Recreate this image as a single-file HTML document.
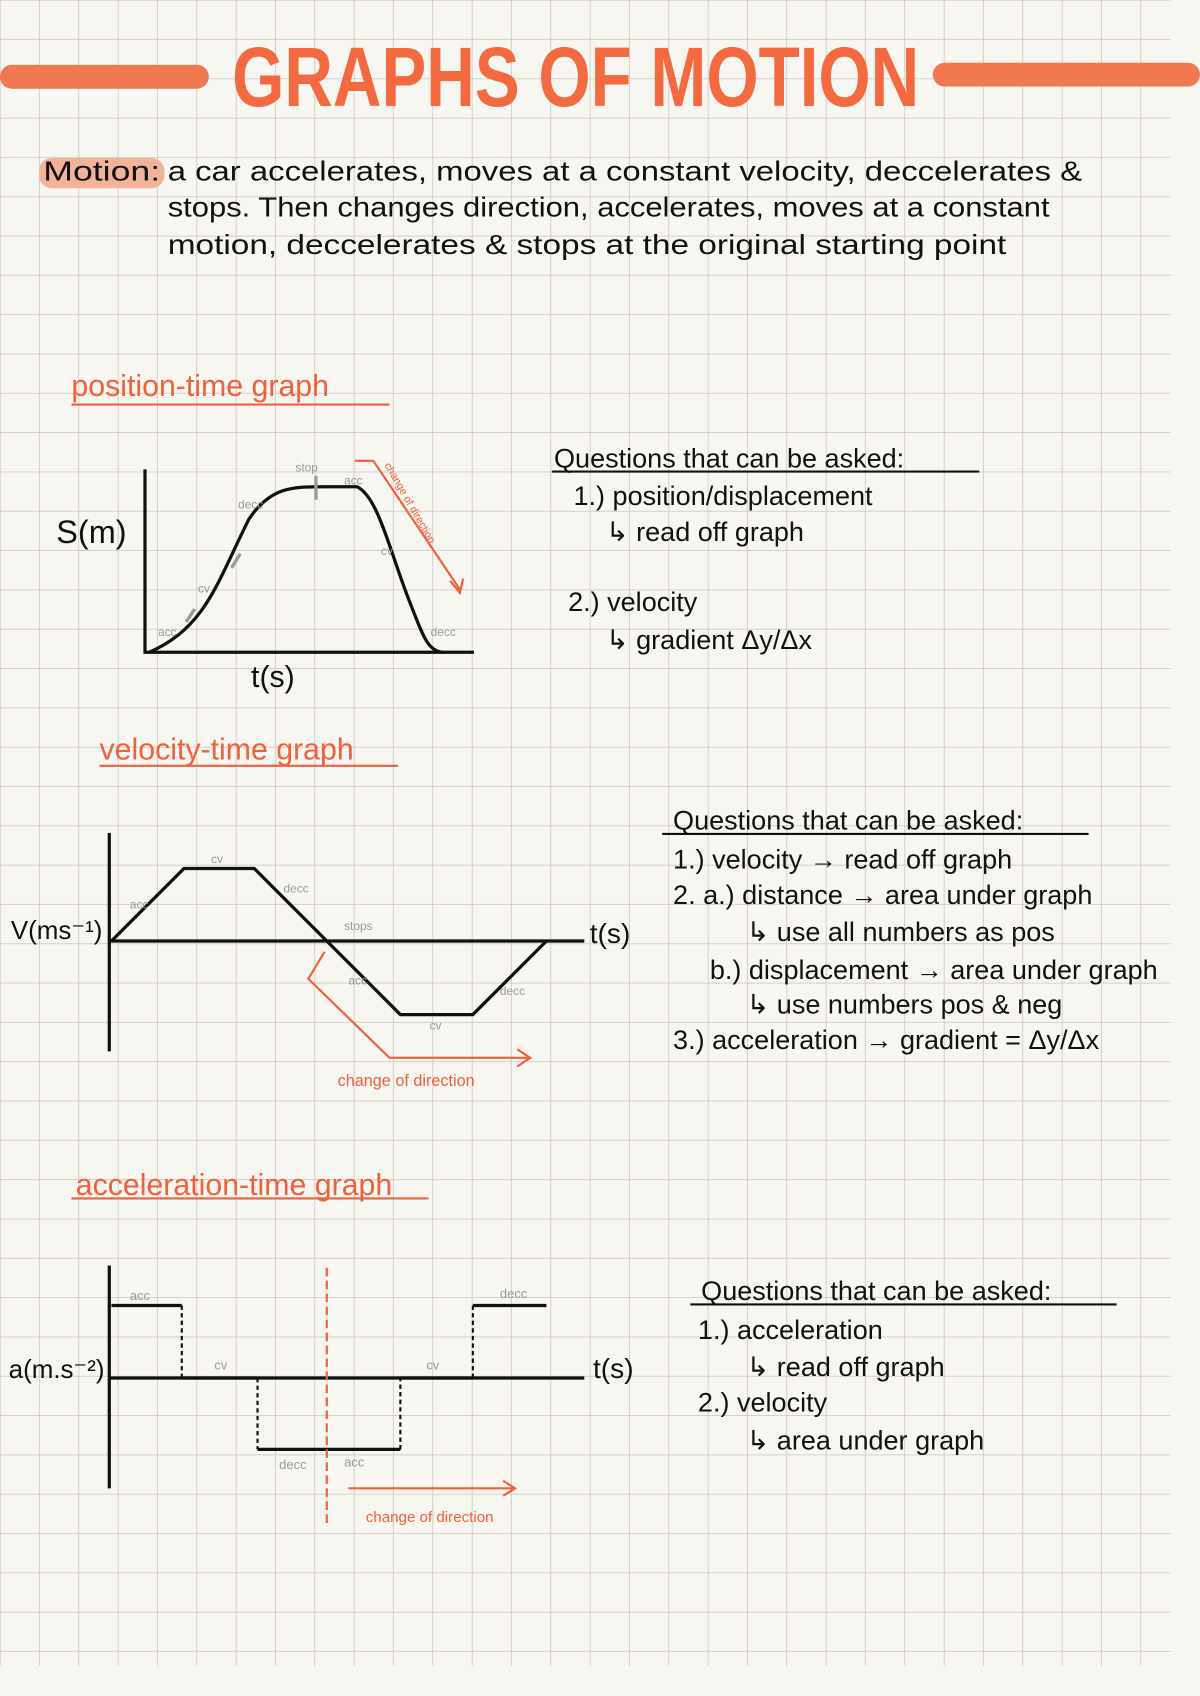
<!DOCTYPE html>
<html><head><style>
html,body{margin:0;padding:0;background:#f8f6f1;}
svg{display:block;}
text{font-family:"Liberation Sans",sans-serif;}
</style></head><body>
<svg width="1200" height="1696" viewBox="0 0 1109 1568" preserveAspectRatio="none" xmlns="http://www.w3.org/2000/svg">
<defs>
<pattern id="g" x="0.5" y="0.5" width="36.35" height="36.35" patternUnits="userSpaceOnUse">
<path d="M36.35 0V36.35M0 36.35H36.35" stroke="#c9c4bb" stroke-width="1.4" fill="none"/>
</pattern>
</defs>
<rect width="1109" height="1568" fill="#f8f6f1"/>
<rect x="0" y="0" width="1082" height="1540" fill="url(#g)"/>
<rect x="0" y="60" width="193" height="22" rx="11" fill="#f07850"/>
<rect x="862" y="58" width="247" height="22" rx="11" fill="#f07850"/>
<text x="532" y="98" font-size="78" fill="#f46a40" text-anchor="middle" font-weight="bold" textLength="635" lengthAdjust="spacingAndGlyphs">GRAPHS OF MOTION</text>
<rect x="36" y="146" width="116" height="28" rx="12" fill="#f3b39a"/>
<g font-size="26" fill="#111">
<text x="40" y="167" textLength="108" lengthAdjust="spacingAndGlyphs">Motion:</text>
<text x="155" y="167" textLength="845" lengthAdjust="spacingAndGlyphs">a car accelerates, moves at a constant velocity, deccelerates &amp;</text>
<text x="155" y="200" textLength="815" lengthAdjust="spacingAndGlyphs">stops. Then changes direction, accelerates, moves at a constant</text>
<text x="155" y="235" textLength="775" lengthAdjust="spacingAndGlyphs">motion, deccelerates &amp; stops at the original starting point</text>
</g>
<g fill="#f0603a" font-size="28">
<text x="66" y="366">position-time graph</text>
<text x="92" y="702">velocity-time graph</text>
<text x="70" y="1105">acceleration-time graph</text>
</g>
<g stroke="#f0603a" stroke-width="2">
<line x1="66" y1="374" x2="360" y2="374"/>
<line x1="92" y1="708" x2="368" y2="708"/>
<line x1="66" y1="1108" x2="396" y2="1108"/>
</g>
<g stroke="#111" stroke-width="3" fill="none">
<path d="M134 434V603H438"/>
<path d="M138 603C190 580 200 540 230 480C250 450 270 450 300 450H330C350 460 360 510 380 560C390 585 395 603 410 603"/>
</g>
<g stroke="#999" stroke-width="3"><line x1="172" y1="575" x2="180" y2="563"/><line x1="214" y1="525" x2="222" y2="512"/><line x1="292" y1="440" x2="292" y2="462"/></g>
<g fill="#999" font-size="11"><text x="146" y="588">acc</text><text x="183" y="548">cv</text><text x="220" y="470">decc</text><text x="273" y="436">stop</text><text x="318" y="448">acc</text><text x="352" y="513">cv</text><text x="398" y="588">decc</text></g>
<path d="M328 426H345L425 545" stroke="#f0603a" stroke-width="2" fill="none"/>
<path d="M416 537L425 548L428 535" stroke="#f0603a" stroke-width="2" fill="none"/>
<text x="355" y="430" font-size="10" fill="#f0603a" transform="rotate(60 355 430)">change of direction</text>
<text x="52" y="502" font-size="30" fill="#111">S(m)</text>
<text x="232" y="635" font-size="28" fill="#111">t(s)</text>
<g fill="#111" font-size="25">
<text x="512" y="432">Questions that can be asked:</text>
<text x="530" y="467">1.) position/displacement</text>
<text x="560" y="500">↳ read off graph</text>
<text x="525" y="565">2.) velocity</text>
<text x="560" y="600">↳ gradient Δy/Δx</text>
</g>
<line x1="510" y1="436" x2="905" y2="436" stroke="#111" stroke-width="2"/>
<g stroke="#111" stroke-width="3" fill="none">
<path d="M101 770V972"/><path d="M101 870H540"/>
<path d="M103 870L170 803H235L302 870L370 938H437L505 870"/>
</g>
<g fill="#999" font-size="11"><text x="120" y="840">acc</text><text x="195" y="798">cv</text><text x="262" y="825">decc</text><text x="318" y="860">stops</text><text x="322" y="910">acc</text><text x="397" y="952">cv</text><text x="462" y="920">decc</text></g>
<path d="M300 880L285 905L360 978H488M478 970L490 978L478 986" stroke="#f0603a" stroke-width="2" fill="none"/>
<text x="312" y="1004" font-size="15" fill="#f0603a">change of direction</text>
<text x="10" y="868" font-size="24" fill="#111">V(ms⁻¹)</text>
<text x="545" y="872" font-size="26" fill="#111">t(s)</text>
<g fill="#111" font-size="25">
<text x="622" y="767">Questions that can be asked:</text>
<text x="622" y="803">1.) velocity → read off graph</text>
<text x="622" y="836">2. a.) distance → area under graph</text>
<text x="690" y="870">↳ use all numbers as pos</text>
<text x="656" y="905">b.) displacement → area under graph</text>
<text x="690" y="937">↳ use numbers pos &amp; neg</text>
<text x="622" y="970">3.) acceleration → gradient = Δy/Δx</text>
</g>
<line x1="612" y1="771" x2="1006" y2="771" stroke="#111" stroke-width="2"/>
<g stroke="#111" stroke-width="3" fill="none">
<path d="M101 1170V1376"/><path d="M101 1274H540"/>
<path d="M103 1207H168M168 1274H238M238 1340H370M370 1274H437M437 1207H505"/>
</g>
<g stroke="#111" stroke-width="2" stroke-dasharray="4 3"><path d="M168 1207V1274M238 1274V1340M370 1340V1274M437 1274V1207"/></g>
<line x1="302" y1="1172" x2="302" y2="1408" stroke="#f0603a" stroke-width="2" stroke-dasharray="8 4"/>
<path d="M322 1376H475M465 1369L476 1376L465 1383" stroke="#f0603a" stroke-width="2" fill="none"/>
<text x="338" y="1407" font-size="14" fill="#f0603a">change of direction</text>
<g fill="#999" font-size="12"><text x="120" y="1202">acc</text><text x="198" y="1266">cv</text><text x="258" y="1358">decc</text><text x="318" y="1356">acc</text><text x="394" y="1266">cv</text><text x="462" y="1200">decc</text></g>
<text x="8" y="1274" font-size="24" fill="#111">a(m.s⁻²)</text>
<text x="548" y="1274" font-size="26" fill="#111">t(s)</text>
<g fill="#111" font-size="25">
<text x="648" y="1202">Questions that can be asked:</text>
<text x="645" y="1238">1.) acceleration</text>
<text x="690" y="1272">↳ read off graph</text>
<text x="645" y="1305">2.) velocity</text>
<text x="690" y="1340">↳ area under graph</text>
</g>
<line x1="638" y1="1206" x2="1032" y2="1206" stroke="#111" stroke-width="2"/>
</svg>
</body></html>
